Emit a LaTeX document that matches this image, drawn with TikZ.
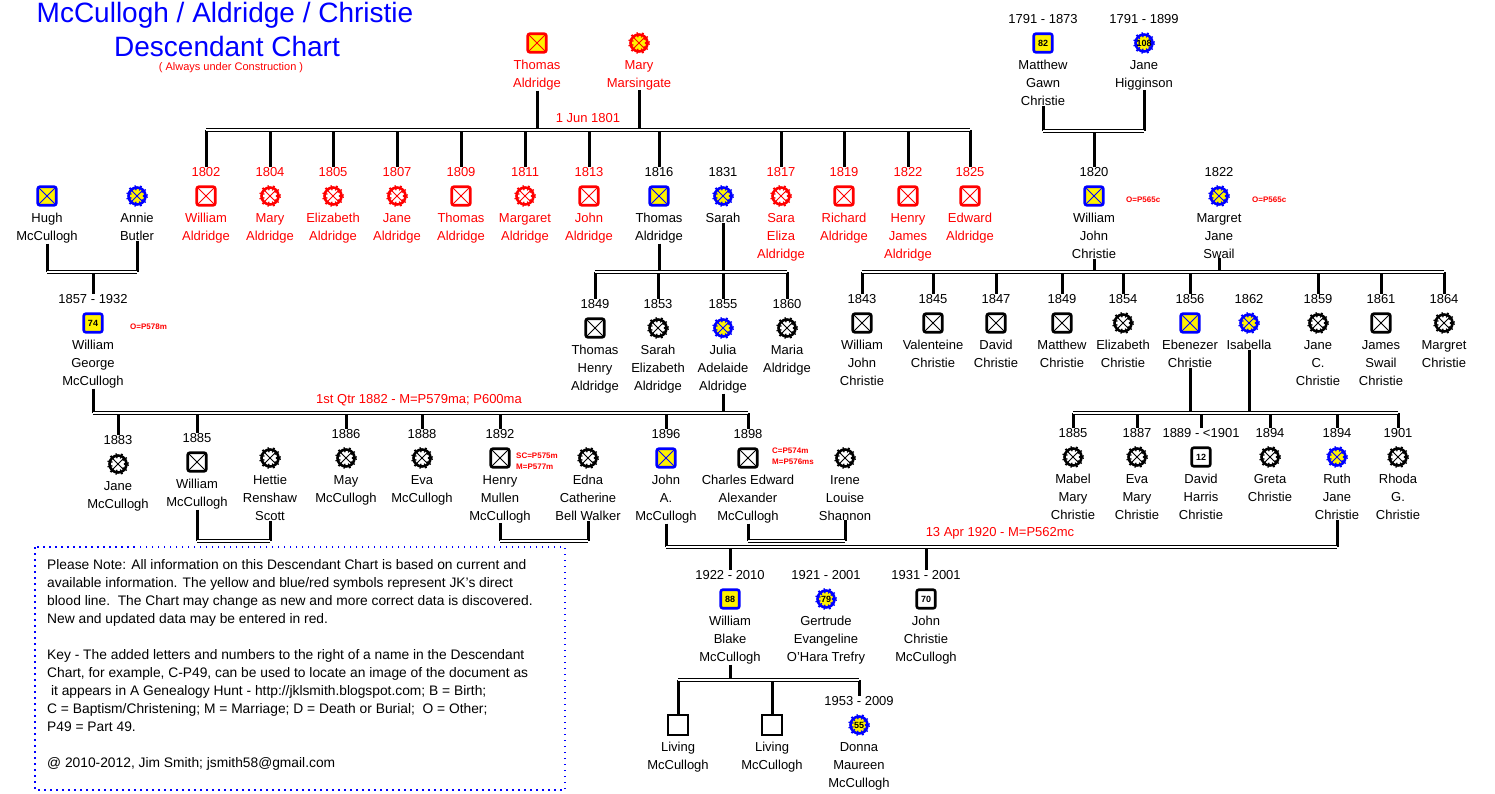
\documentclass[tikz,border=0pt]{standalone}
\usepackage{fontspec}
\setmainfont{Liberation Sans}
\begin{document}
\begin{tikzpicture}[x=1pt,y=-1pt,
 every node/.style={inner sep=0pt},
 yr/.style={font=\fontsize{13}{14}\selectfont},
 nm/.style={font=\fontsize{13}{18}\selectfont, align=center, anchor=north},
 sq/.style={rectangle, rounded corners=2pt, minimum size=18.5pt, line width=2.6pt},
 ci/.style={circle, minimum size=17pt, line width=2.6pt, postaction={draw, dash pattern=on 1.3pt off 3.4pt, line width=5pt}},
 cr/.style={path picture={\draw[#1, line width=1pt] (path picture bounding box.north west) -- (path picture bounding box.south east) (path picture bounding box.north east) -- (path picture bounding box.south west);}},
 numf/.style={font=\fontsize{9}{9}\selectfont\bfseries},
 dlm/.style={sq, draw=blue, fill=yellow, cr=blue},
 dlf/.style={ci, draw=blue, fill=yellow, cr=blue},
 dln/.style={sq, draw=blue, fill=yellow, numf},
 dlfn/.style={ci, draw=blue, fill=yellow, numf},
 rym/.style={sq, draw=red, fill=yellow, cr=red},
 ryf/.style={ci, draw=red, fill=yellow, cr=red},
 rdm/.style={sq, draw=red, fill=white, cr=red},
 rdf/.style={ci, draw=red, fill=white, cr=red},
 bkm/.style={sq, draw=black, fill=white, cr=black},
 bkf/.style={ci, draw=black, fill=white, cr=black},
 bkn/.style={sq, draw=black, fill=white, numf},
 bko/.style={rectangle, minimum size=20pt, line width=2pt, draw=black, fill=white},
 vl/.style={line width=3pt},
 bar/.style={line width=1pt, double=white, double distance=1.2pt},
 ann/.style={text=red, font=\fontsize{8}{11}\selectfont\bfseries, align=left, anchor=west},
 mlab/.style={text=red, font=\fontsize{13}{14}\selectfont},
]
\useasboundingbox (0,0) rectangle (1495,794);
\newcommand\person[8]{%
 \node[yr,text=#8] (#1y) at (#2,#3) {#4};
 \node[#5] (#1) at (#2,#3+24) {#6};
 \node[nm,text=#8] (#1n) at (#2,#3+41) {#7};}

% titles
\node[text=blue, font=\fontsize{28}{30}\selectfont] (t1) at (225,15) {McCullogh / Aldridge / Christie};
\node[text=blue, font=\fontsize{28}{30}\selectfont] (t2) at (227,46) {Descendant Chart};
\node[text=red, font=\fontsize{11}{12}\selectfont] (t3) at (231,68) {( Always under Construction )};

% generation 1
\person{TA}{537}{19}{}{rym}{}{Thomas\\Aldridge}{red}
\person{MM}{639}{19}{}{ryf}{}{Mary\\Marsingate}{red}
\person{MG}{1043}{19}{1791 - 1873}{dln}{82}{Matthew\\Gawn\\Christie}{black}
\person{JH}{1144}{19}{1791 - 1899}{dlfn}{108}{Jane\\Higginson}{black}
% generation 2
\person{aa}{206}{172}{1802}{rdm}{}{William\\Aldridge}{red}
\person{ab}{270}{172}{1804}{rdf}{}{Mary\\Aldridge}{red}
\person{ac}{333}{172}{1805}{rdf}{}{Elizabeth\\Aldridge}{red}
\person{ad}{397}{172}{1807}{rdf}{}{Jane\\Aldridge}{red}
\person{ae}{461}{172}{1809}{rdm}{}{Thomas\\Aldridge}{red}
\person{af}{525}{172}{1811}{rdf}{}{Margaret\\Aldridge}{red}
\person{ag}{589}{172}{1813}{rdm}{}{John\\Aldridge}{red}
\person{TB}{659}{172}{1816}{dlm}{}{Thomas\\Aldridge}{black}
\person{SA}{723}{172}{1831}{dlf}{}{Sarah}{black}
\person{ah}{781}{172}{1817}{rdf}{}{Sara\\Eliza\\Aldridge}{red}
\person{ai}{844}{172}{1819}{rdm}{}{Richard\\Aldridge}{red}
\person{aj}{908}{172}{1822}{rdm}{}{Henry\\James\\Aldridge}{red}
\person{ak}{970}{172}{1825}{rdm}{}{Edward\\Aldridge}{red}
\person{HM}{47}{172}{}{dlm}{}{Hugh\\McCullogh}{black}
\person{AB}{137}{172}{}{dlf}{}{Annie\\Butler}{black}
\person{WJ}{1094}{172}{1820}{dlm}{}{William\\John\\Christie}{black}
\person{MJ}{1219}{172}{1822}{dlf}{}{Margret\\Jane\\Swail}{black}
\node[ann] (o1) at (1126,200) {O=P565c};
\node[ann] (o2) at (1252,200) {O=P565c};
% generation 3
\person{WG}{93}{299}{1857 - 1932}{dln}{74}{William\\George\\McCullogh}{black}
\node[ann] (o3) at (130,327) {O=P578m};
\person{ba}{595}{304}{1849}{bkm}{}{Thomas\\Henry\\Aldridge}{black}
\person{bb}{658}{304}{1853}{bkf}{}{Sarah\\Elizabeth\\Aldridge}{black}
\person{JA}{723}{304}{1855}{dlf}{}{Julia\\Adelaide\\Aldridge}{black}
\person{bd}{787}{304}{1860}{bkf}{}{Maria\\Aldridge}{black}
\person{ca}{862}{299}{1843}{bkm}{}{William\\John\\Christie}{black}
\person{cb}{933}{299}{1845}{bkm}{}{Valenteine\\Christie}{black}
\person{cc}{996}{299}{1847}{bkm}{}{David\\Christie}{black}
\person{cd}{1062}{299}{1849}{bkm}{}{Matthew\\Christie}{black}
\person{ce}{1123}{299}{1854}{bkf}{}{Elizabeth\\Christie}{black}
\person{EC}{1190}{299}{1856}{dlm}{}{Ebenezer\\Christie}{black}
\person{IS}{1249}{299}{1862}{dlf}{}{Isabella}{black}
\person{ch}{1318}{299}{1859}{bkf}{}{Jane\\C.\\Christie}{black}
\person{ci}{1381}{299}{1861}{bkm}{}{James\\Swail\\Christie}{black}
\person{cj}{1444}{299}{1864}{bkf}{}{Margret\\Christie}{black}
% generation 4
\person{da}{118}{440}{1883}{bkf}{}{Jane\\McCullogh}{black}
\person{WM}{197}{438}{1885}{bkm}{}{William\\McCullogh}{black}
\person{HR}{270}{434}{}{bkf}{}{Hettie\\Renshaw\\Scott}{black}
\person{dd}{346}{434}{1886}{bkf}{}{May\\McCullogh}{black}
\person{de}{422}{434}{1888}{bkf}{}{Eva\\McCullogh}{black}
\person{HH}{500}{434}{1892}{bkm}{}{Henry\\Mullen\\McCullogh}{black}
\person{ED}{588}{434}{}{bkf}{}{Edna\\Catherine\\Bell Walker}{black}
\person{JM}{666}{434}{1896}{dlm}{}{John\\A.\\McCullogh}{black}
\person{CE}{748}{434}{1898}{bkm}{}{Charles Edward\\Alexander\\McCullogh}{black}
\person{IL}{845}{434}{}{bkf}{}{Irene\\Louise\\Shannon}{black}
\node[ann] (o4) at (516,461) {SC=P575m\\M=P577m};
\node[ann] (o5) at (772,456) {C=P574m\\M=P576ms};
\person{ea}{1073}{433}{1885}{bkf}{}{Mabel\\Mary\\Christie}{black}
\person{eb}{1137}{433}{1887}{bkf}{}{Eva\\Mary\\Christie}{black}
\person{ec}{1201}{433}{1889 - <1901}{bkn}{12}{David\\Harris\\Christie}{black}
\person{ed}{1270}{433}{1894}{bkf}{}{Greta\\Christie}{black}
\person{RJ}{1337}{433}{1894}{dlf}{}{Ruth\\Jane\\Christie}{black}
\person{ef}{1398}{433}{1901}{bkf}{}{Rhoda\\G.\\Christie}{black}
% generation 5
\person{WB}{730}{575}{1922 - 2010}{dln}{88}{William\\Blake\\McCullogh}{black}
\person{GE}{826}{575}{1921 - 2001}{dlfn}{79}{Gertrude\\Evangeline\\O'Hara Trefry}{black}
\person{JC}{926}{575}{1931 - 2001}{bkn}{70}{John\\Christie\\McCullogh}{black}
% generation 6
\person{LA}{678}{701}{}{bko}{}{Living\\McCullogh}{black}
\person{LB}{772}{701}{}{bko}{}{Living\\McCullogh}{black}
\person{DM}{859}{701}{1953 - 2009}{dlfn}{55}{Donna\\Maureen\\McCullogh}{black}

% marriage labels
\node[mlab] (m1) at (588,118) {1 Jun 1801};
\node[mlab] (m2) at (419,400) {1st Qtr 1882 - M=P579ma; P600ma};
\node[mlab] (m3) at (1000,533) {13 Apr 1920 - M=P562mc};

% connectors
\coordinate (yA) at (0,130);
\coordinate (yB) at (0,131);
\coordinate (yC) at (0,272);
\coordinate (yD) at (0,413);
\coordinate (yE) at (0,541);
\coordinate (yF) at (0,547);
\coordinate (yG) at (0,680);
\begin{scope}[vl]
\foreach \p in {TA,MM} \draw (\p n.south) -- (\p n.south |- yA);
\foreach \c in {aa,ab,ac,ad,ae,af,ag,TB,ah,ai,aj,ak} \draw (\c y.north |- yA) -- (\c y.north);
\foreach \p in {MG,JH} \draw (\p n.south) -- (\p n.south |- yB);
\draw (WJy.north |- yB) -- (WJy.north);
\foreach \p in {HM,AB} \draw (\p n.south) -- (\p n.south |- yC);
\draw (WGy.north |- yC) -- (WGy.north);
\foreach \p in {TB,SA,WJ,MJ} \draw (\p n.south) -- (\p n.south |- yC);
\foreach \c in {ba,bb,JA,bd,ca,cb,cc,cd,ce,EC,ch,ci,cj} \draw (\c y.north |- yC) -- (\c y.north);
\foreach \p in {WG,JA,EC,IS} \draw (\p n.south) -- (\p n.south |- yD);
\foreach \c in {da,WM,dd,de,HH,JM,CE,ea,eb,ec,ed,RJ,ef} \draw (\c y.north |- yD) -- (\c y.north);
\foreach \p in {WM,HR,HH,ED,CE,IL} \draw (\p n.south) -- (\p n.south |- yE);
\foreach \p in {JM,RJ} \draw (\p n.south) -- (\p n.south |- yF);
\draw (WBy.north |- yF) -- (WBy.north);
\draw (JCy.north |- yF) -- (JCy.north);
\draw (WBn.south) -- (WBn.south |- yG);
\draw (LA.north |- yG) -- (LA.north);
\draw (LB.north |- yG) -- (LB.north);
\draw (DMy.north |- yG) -- (DMy.north);
\end{scope}
\draw[bar] (aay.north |- yA) -- (aky.north |- yA);
\draw[bar] (MGn.south |- yB) -- (JHn.south |- yB);
\draw[bar] (HMn.south |- yC) -- (ABn.south |- yC);
\draw[bar] (bay.north |- yC) -- (bdy.north |- yC);
\draw[bar] (cay.north |- yC) -- (cjy.north |- yC);
\draw[bar] (WGn.south |- yD) -- (CEy.north |- yD);
\draw[bar] (eay.north |- yD) -- (efy.north |- yD);
\draw[bar] (WMn.south |- yE) -- (HRn.south |- yE);
\draw[bar] (HHn.south |- yE) -- (EDn.south |- yE);
\draw[bar] (CEn.south |- yE) -- (ILn.south |- yE);
\draw[bar] (JMn.south |- yF) -- (RJn.south |- yF);
\draw[bar] (LA.north |- yG) -- (DMy.north |- yG);

% note box
\draw[blue, line width=1.5pt, dash pattern=on 1.5pt off 4.5pt] (35,547) rectangle (565,790);
\node[anchor=north west, align=left, font=\fontsize{13.8}{18}\selectfont] (note) at (47,559) {%
Please Note: All information on this Descendant Chart is based on current and\\
available information. The yellow and blue/red symbols represent JK's direct\\
blood line.\ \ The Chart may change as new and more correct data is discovered.\\
New and updated data may be entered in red.\\[18pt]
Key - The added letters and numbers to the right of a name in the Descendant\\
Chart, for example, C-P49, can be used to locate an image of the document as\\
\ it appears in A Genealogy Hunt - http://jklsmith.blogspot.com; B = Birth;\\
C = Baptism/Christening; M = Marriage; D = Death or Burial;\ \ O = Other;\\
P49 = Part 49.\\[18pt]
@ 2010-2012, Jim Smith; jsmith58@gmail.com};
\end{tikzpicture}
\end{document}
